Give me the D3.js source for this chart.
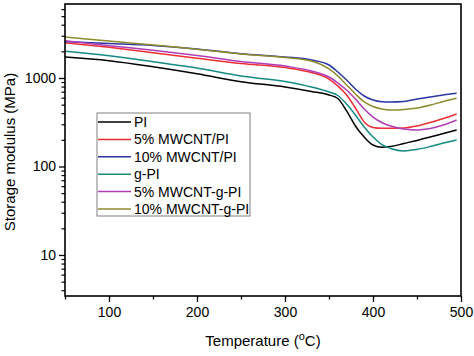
<!DOCTYPE html>
<html><head><meta charset="utf-8">
<script src="https://cdn.jsdelivr.net/npm/d3@7"></script>
<style>
html,body{margin:0;padding:0;background:#fff;}
svg{display:block;}
text{font-family:"Liberation Sans",Arial,Helvetica,sans-serif;fill:#000;}
</style></head>
<body><svg id="chart" width="474" height="356"></svg>
<script>
// Temperature (°C)
const temps = [50, 100, 150, 200, 250, 300, 330, 350, 360, 370, 380, 390, 400, 410, 420, 435, 450, 465, 480, 495];
// Storage modulus (MPa)
const piVals      = [1727, 1569, 1342, 1118, 908, 791, 704, 643, 587, 424, 287, 215, 175, 165, 168, 182, 197, 215, 236, 259];
const cnt5Vals    = [2505, 2223, 1932, 1674, 1458, 1314, 1154, 974, 812, 643, 458, 318, 276, 270, 270, 272, 287, 314, 349, 392];
const cnt10Vals   = [2585, 2454, 2329, 2127, 1882, 1727, 1597, 1403, 1169, 949, 751, 626, 564, 540, 536, 543, 579, 610, 643, 672];
const gpiVals     = [2003, 1786, 1529, 1297, 1053, 913, 791, 695, 634, 508, 382, 279, 215, 177, 160, 150, 156, 168, 184, 199];
const cnt5gVals   = [2640, 2317, 2056, 1796, 1536, 1366, 1200, 1026, 878, 732, 579, 446, 362, 314, 287, 265, 259, 269, 294, 335];
const cnt10gVals  = [2906, 2619, 2360, 2116, 1867, 1704, 1556, 1264, 1053, 834, 660, 536, 476, 446, 435, 441, 458, 495, 543, 590];

const seriesNames = ["PI", "5% MWCNT/PI", "10% MWCNT/PI", "g-PI", "5% MWCNT-g-PI", "10% MWCNT-g-PI"];
const seriesColors = ["#000000", "#ec2f33", "#2b36a3", "#168a84", "#b03cb6", "#8e8b2e"];
const seriesValues = [piVals, cnt5Vals, cnt10Vals, gpiVals, cnt5gVals, cnt10gVals];

const xTicks = [100, 200, 300, 400, 500];
const xMinor = [50, 150, 250, 350, 450];
const yTicks = [10, 100, 1000];

const L = 65, R = 461, T = 4, B = 296;
const svg = d3.select("#chart");

const x = d3.scaleLinear().domain([50, 500]).range([L, R]);
const y = d3.scaleLog().domain([3.44, 6856]).range([B, T]);

// minor y ticks
const yMinor = [];
[1, 10, 100, 1000].forEach(d => { for (let k = 2; k <= 9; k++) { const v = d * k; if (v >= 3.44 && v <= 6856) yMinor.push(v); } });

// curves
const line = d3.line().x(d => x(d[0])).y(d => y(d[1])).curve(d3.curveMonotoneX);
const g = svg.append("g");
seriesValues.forEach((vals, i) => {
  g.append("path")
    .datum(temps.map((t, j) => [t, vals[j]]))
    .attr("d", line)
    .attr("fill", "none")
    .attr("stroke", seriesColors[i])
    .attr("stroke-width", 1.5);
});

// frame
svg.append("rect").attr("x", L).attr("y", T).attr("width", R - L).attr("height", B - T)
  .attr("fill", "none").attr("stroke", "#000").attr("stroke-width", 1.6);

// x axis
const xAxis = d3.axisBottom(x).tickValues(xTicks).tickSize(6).tickSizeOuter(0).tickPadding(5);
const gx = svg.append("g").attr("transform", `translate(0,${B})`).call(xAxis);
gx.select(".domain").remove();
gx.selectAll("line").attr("stroke-width", 1.3);
gx.selectAll("text").attr("font-size", 14).style("font-family", "Liberation Sans, Arial, sans-serif");
const xAxisMinor = d3.axisBottom(x).tickValues(xMinor).tickSize(3.5).tickSizeOuter(0).tickFormat("");
const gxm = svg.append("g").attr("transform", `translate(0,${B})`).call(xAxisMinor);
gxm.select(".domain").remove();
gxm.selectAll("line").attr("stroke-width", 1.3);

// y axis
const yAxis = d3.axisLeft(y).tickValues(yTicks).tickSize(6).tickSizeOuter(0).tickPadding(3).tickFormat(d3.format("d"));
const gy = svg.append("g").attr("transform", `translate(${L},0)`).call(yAxis);
gy.select(".domain").remove();
gy.selectAll("line").attr("stroke-width", 1.3);
gy.selectAll("text").attr("font-size", 14).style("font-family", "Liberation Sans, Arial, sans-serif");
const yAxisMinor = d3.axisLeft(y).tickValues(yMinor).tickSize(3.5).tickSizeOuter(0).tickFormat("");
const gym = svg.append("g").attr("transform", `translate(${L},0)`).call(yAxisMinor);
gym.select(".domain").remove();
gym.selectAll("line").attr("stroke-width", 1.2);

// axis titles
const xt = svg.append("text").attr("x", 263).attr("y", 346).attr("text-anchor", "middle").attr("font-size", 15);
xt.append("tspan").text("Temperature (");
xt.append("tspan").attr("font-size", 11).attr("dy", -6).text("o");
xt.append("tspan").attr("dy", 6).text("C)");

svg.append("text").attr("transform", "translate(15,152) rotate(-90)").attr("text-anchor", "middle")
  .attr("font-size", 15).text("Storage modulus (MPa)");

// legend
const lg = svg.append("g");
lg.append("rect").attr("x", 97).attr("y", 113).attr("width", 153).attr("height", 103)
  .attr("fill", "#fff").attr("stroke", "#808080").attr("stroke-width", 1);
seriesNames.forEach((name, i) => {
  const yy = 122 + i * 17.4;
  lg.append("line").attr("x1", 98).attr("x2", 131).attr("y1", yy).attr("y2", yy)
    .attr("stroke", seriesColors[i]).attr("stroke-width", 1.5);
  lg.append("text").attr("x", 134).attr("y", yy + 5).attr("font-size", 14).text(name);
});
</script>
</body></html>
